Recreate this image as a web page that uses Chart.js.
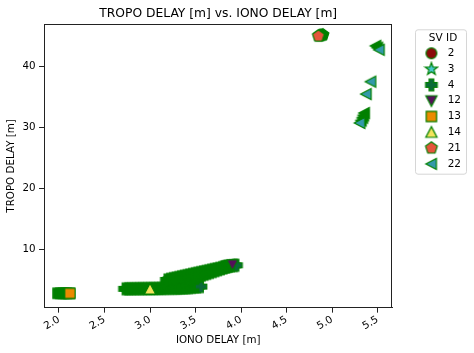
<!DOCTYPE html>
<html><head><meta charset="utf-8">
<script src="https://cdn.jsdelivr.net/npm/chart.js@4.4.1/dist/chart.umd.min.js"></script>
<style>html,body{margin:0;padding:0;background:#fff}#wrap{width:474px;height:353px}</style>
</head><body><div id="wrap"><canvas id="c" width="474" height="353"></canvas></div>
<script>
// ---------------- data ----------------
const svIds = ['2', '3', '4', '12', '13', '14', '21', '22'];

const sv2X = [3.30, 3.33];
const sv2Y = [3.55, 3.56];

const sv3X = [3.38, 3.41];
const sv3Y = [4.55, 4.62];

// SV 4: lower track, then lower-right part of upper track, then upper track
const sv4X = [2.72, 2.75, 2.78, 2.81, 2.84, 2.87, 2.90, 2.93, 2.96, 2.99, 3.02, 3.05, 3.08, 3.11, 3.14,
              3.17, 3.20, 3.23, 3.26, 3.29, 3.32, 3.35, 3.38, 3.41, 3.44, 3.47, 3.50, 3.53, 3.56,
              3.43, 3.46, 3.49, 3.52, 3.55, 3.58, 3.61, 3.64, 3.67, 3.70, 3.73, 3.76, 3.79, 3.82, 3.85, 3.88,
              3.18, 3.21, 3.24, 3.27, 3.30, 3.33, 3.36, 3.39, 3.42, 3.45, 3.48, 3.51, 3.54, 3.57, 3.60,
              3.63, 3.66, 3.69, 3.72, 3.75, 3.78, 3.81, 3.84, 3.87, 3.90, 3.93, 3.95];
const sv4Y = [3.45, 3.45, 3.46, 3.46, 3.47, 3.47, 3.48, 3.48, 3.49, 3.49, 3.50, 3.50, 3.51, 3.52, 3.53,
              3.53, 3.54, 3.55, 3.55, 3.56, 3.57, 3.58, 3.59, 3.62, 3.66, 3.70, 3.74, 3.78, 3.82,
              5.00, 5.14, 5.28, 5.41, 5.55, 5.70, 5.85, 6.00, 6.15, 6.30, 6.45, 6.60, 6.75, 6.90, 7.05, 7.20,
              4.92, 5.02, 5.12, 5.22, 5.32, 5.42, 5.52, 5.62, 5.72, 5.82, 5.92, 6.02, 6.12, 6.22, 6.32,
              6.42, 6.52, 6.62, 6.72, 6.82, 6.92, 7.00, 7.08, 7.16, 7.24, 7.30, 7.32];

const sv12X = [3.84, 3.86, 3.88, 3.905];
const sv12Y = [7.20, 7.26, 7.32, 7.40];

const sv13X = [1.99, 2.02, 2.05, 2.08, 2.11, 2.12];
const sv13Y = [2.72, 2.72, 2.71, 2.71, 2.70, 2.70];

const sv14X = [3.09, 3.06, 3.03, 3.00];
const sv14Y = [3.45, 3.44, 3.43, 3.42];

const sv21X = [4.90, 4.885, 4.87, 4.86, 4.85];
const sv21Y = [45.25, 45.20, 45.15, 45.10, 45.05];

const sv22X = [5.48, 5.50, 5.518, 5.425, 5.375, 5.355, 5.345, 5.335, 5.32, 5.305];
const sv22Y = [43.45, 43.15, 42.80, 37.55, 35.50, 32.40, 32.00, 31.60, 31.15, 30.75];

const xTicks = [2.0, 2.5, 3.0, 3.5, 4.0, 4.5, 5.0, 5.5];
const yTicks = [10, 20, 30, 40];

// ---------------- styling ----------------
const FONT = 'DejaVu Sans';
const EDGE = '#008000';
const seriesX = [sv2X, sv3X, sv4X, sv12X, sv13X, sv14X, sv21X, sv22X];
const seriesY = [sv2Y, sv3Y, sv4Y, sv12Y, sv13Y, sv14Y, sv21Y, sv22Y];
const fills = ['#8b0a0a', '#46c8cc', '#0a6a3a', '#55105a', '#ec8a00', '#f3e35c', '#e5553c', '#3399aa'];
const shapes = ['circle', 'star', 'plus', 'tridown', 'square', 'triup', 'pentagon', 'trileft'];

function shapePath(g, shape) {
  g.beginPath();
  if (shape === 'circle') { g.arc(0, 0, 5.4, 0, Math.PI * 2); }
  else if (shape === 'star') {
    for (let k = 0; k < 10; k++) {
      const r = k % 2 === 0 ? 6.6 : 2.7;
      const a = -Math.PI / 2 + k * Math.PI / 5;
      const px = r * Math.cos(a), py = r * Math.sin(a);
      if (k === 0) g.moveTo(px, py); else g.lineTo(px, py);
    }
  } else if (shape === 'plus') {
    const s = 5.8, a = 2.3;
    const pts = [[-a,-s],[a,-s],[a,-a],[s,-a],[s,a],[a,a],[a,s],[-a,s],[-a,a],[-s,a],[-s,-a],[-a,-a]];
    pts.forEach((p, k) => k ? g.lineTo(p[0], p[1]) : g.moveTo(p[0], p[1]));
  } else if (shape === 'square') { g.rect(-5.2, -5.2, 10.4, 10.4); }
  else if (shape === 'triup') { g.moveTo(0, -5.6); g.lineTo(5.6, 5.0); g.lineTo(-5.6, 5.0); }
  else if (shape === 'tridown') { g.moveTo(0, 5.6); g.lineTo(5.6, -5.0); g.lineTo(-5.6, -5.0); }
  else if (shape === 'trileft') { g.moveTo(-5.6, 0); g.lineTo(5.0, -5.6); g.lineTo(5.0, 5.6); }
  else if (shape === 'pentagon') {
    for (let k = 0; k < 5; k++) {
      const a = -Math.PI / 2 + k * 2 * Math.PI / 5;
      const px = 6.2 * Math.cos(a), py = 6.2 * Math.sin(a);
      if (k === 0) g.moveTo(px, py); else g.lineTo(px, py);
    }
  }
  g.closePath();
}
function makeMarker(shape, fill, edge) {
  const c = document.createElement('canvas');
  c.width = 16; c.height = 16;
  const g = c.getContext('2d');
  g.translate(8, 8);
  shapePath(g, shape);
  g.fillStyle = fill; g.fill();
  g.lineWidth = 1.2; g.strokeStyle = edge; g.lineJoin = 'miter'; g.stroke();
  return c;
}

// a point whose fill is hidden under the next point of the same track shows only the green edge
function pointStyleFor(ctx) {
  const ds = ctx.dataset;
  const i = ctx.dataIndex;
  const d = ds.data;
  if (i === undefined || i >= d.length - 1) return ds.markerFull;
  const xs = ctx.chart.scales.x, ys = ctx.chart.scales.y;
  const dx = xs.getPixelForValue(d[i + 1].x) - xs.getPixelForValue(d[i].x);
  const dy = ys.getPixelForValue(d[i + 1].y) - ys.getPixelForValue(d[i].y);
  return Math.hypot(dx, dy) < 6 ? ds.markerHidden : ds.markerFull;
}

const datasets = svIds.map((id, i) => ({
  label: id,
  data: seriesX[i].map((x, k) => ({ x: x, y: seriesY[i][k] })),
  markerFull: makeMarker(shapes[i], fills[i], EDGE),
  markerHidden: makeMarker(shapes[i], EDGE, EDGE),
  pointStyle: pointStyleFor,
  pointRadius: 6,
  pointHoverRadius: 6,
  backgroundColor: fills[i],
  borderColor: EDGE,
  order: 10 - i
}));

const framePlugin = {
  id: 'frames',
  beforeDraw(chart) {
    const c = chart.ctx;
    const x = 415.5, y = 29.8, w = 51, h = 144.4, r = 2.5;
    c.save();
    c.beginPath();
    c.moveTo(x + r, y); c.lineTo(x + w - r, y); c.quadraticCurveTo(x + w, y, x + w, y + r);
    c.lineTo(x + w, y + h - r); c.quadraticCurveTo(x + w, y + h, x + w - r, y + h);
    c.lineTo(x + r, y + h); c.quadraticCurveTo(x, y + h, x, y + h - r);
    c.lineTo(x, y + r); c.quadraticCurveTo(x, y, x + r, y);
    c.fillStyle = '#ffffff'; c.fill();
    c.strokeStyle = '#d6d6d6'; c.lineWidth = 1; c.stroke();
    c.restore();
  },
  afterDatasetsDraw(chart) {
    const a = chart.chartArea, c = chart.ctx;
    c.save();
    c.strokeStyle = '#222'; c.lineWidth = 1;
    c.strokeRect(Math.round(a.left) + 0.5, Math.round(a.top) + 0.5, Math.round(a.right - a.left) - 1, Math.round(a.bottom - a.top));
    c.restore();
  }
};

new Chart(document.getElementById('c'), {
  type: 'scatter',
  data: { datasets: datasets },
  plugins: [framePlugin],
  options: {
    responsive: false,
    devicePixelRatio: 1,
    animation: false,
    events: [],
    layout: { padding: { left: 2, right: 3, top: 0, bottom: 0 } },
    scales: {
      x: {
        type: 'linear', min: 1.836, max: 5.663,
        afterBuildTicks: s => { s.ticks = xTicks.map(v => ({ value: v })); },
        ticks: { minRotation: 30, maxRotation: 30, autoSkip: false, padding: 1,
                 color: '#000', font: { family: FONT, size: 10.3 },
                 callback: v => Number(v).toFixed(1) },
        grid: { display: true, drawOnChartArea: false, drawTicks: true, tickLength: 5, color: '#222' },
        border: { display: true, color: '#222', width: 1 },
        title: { display: true, text: 'IONO DELAY [m]', color: '#000',
                 font: { family: FONT, size: 10.3 }, padding: { top: 0.3, bottom: 6.8 } }
      },
      y: {
        type: 'linear', min: 0.35, max: 47.0,
        afterBuildTicks: s => { s.ticks = yTicks.map(v => ({ value: v })); },
        ticks: { padding: 3.5, color: '#000', font: { family: FONT, size: 10.3 } },
        grid: { display: true, drawOnChartArea: false, drawTicks: true, tickLength: 5, color: '#222' },
        border: { display: true, color: '#222', width: 1 },
        title: { display: true, text: 'TROPO DELAY [m]', color: '#000',
                 font: { family: FONT, size: 10.3 }, padding: { top: 2.8, bottom: 1.8 } }
      },
      y2: {
        type: 'linear', position: 'right', display: true,
        grid: { display: false, drawTicks: false }, ticks: { display: false },
        border: { display: false },
        afterFit: s => { s.width = 22.7; }
      }
    },
    plugins: {
      title: { display: true, fullSize: false, text: 'TROPO DELAY [m] vs. IONO DELAY [m]', color: '#000',
               font: { family: FONT, size: 12.3, weight: 'normal' }, padding: { top: 6, bottom: 3.5 } },
      tooltip: { enabled: false },
      legend: {
        display: true, position: 'right', align: 'start',
        title: { display: true, text: 'SV ID', color: '#000', font: { family: FONT, size: 10.5 },
                 padding: { top: 33.25, bottom: -3.1 } },
        labels: {
          usePointStyle: true, pointStyleWidth: 22, padding: 5.3, color: '#000',
          font: { family: FONT, size: 10.5 },
          generateLabels: (chart) => {
            const items = Chart.defaults.plugins.legend.labels.generateLabels(chart);
            items.forEach(it => { it.pointStyle = chart.data.datasets[it.datasetIndex].markerFull; });
            return items.sort((a, b) => a.datasetIndex - b.datasetIndex);
          }
        }
      }
    }
  }
});
</script>
</body></html>
